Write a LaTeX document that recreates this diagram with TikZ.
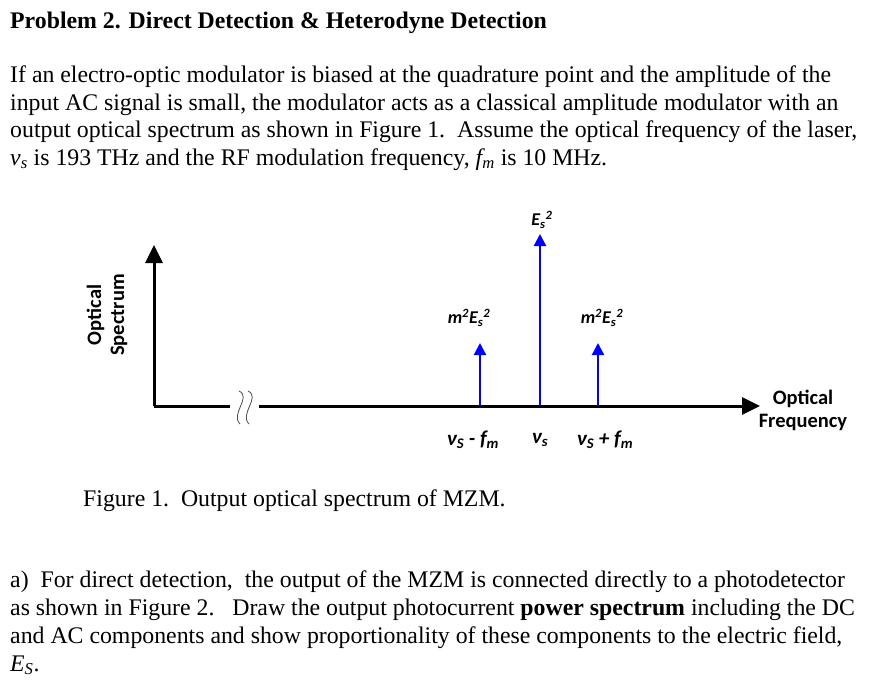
\documentclass[tikz,border=0pt]{standalone}
\usepackage{fontspec}
\setmainfont{Liberation Serif}
\newfontfamily\calfont{Carlito}
\usetikzlibrary{arrows.meta}
\begin{document}
\begin{tikzpicture}[x=1pt,y=-1pt,
  ln/.style={anchor=base west,inner sep=0,font=\fontsize{23.8}{26}\selectfont},
  lab/.style={inner sep=0,font=\calfont\bfseries\fontsize{20.5}{23}\selectfont,align=center},
  elab/.style={inner sep=0,font=\calfont\bfseries\itshape\fontsize{18}{20}\selectfont},
  flab/.style={inner sep=0,font=\calfont\bfseries\itshape\fontsize{21}{23}\selectfont},
  blue/.style={draw={rgb,255:red,0;green,0;blue,255},line width=2.2pt,-{Triangle[length=12pt,width=12pt]}},
  ax/.style={line width=3pt}]
\useasboundingbox (0,0) rectangle (881,691);
\node[ln] (t) at (10,28) {\textbf{Problem 2. Direct Detection \& Heterodyne Detection}};
\node[ln] (p1) at (10,82) {If an electro-optic modulator is biased at the quadrature point and the amplitude of the};
\node[ln] (p2) at (10,110) {input AC signal is small, the modulator acts as a classical amplitude modulator with an};
\node[ln] (p3) at (10,137) {output optical spectrum as shown in Figure 1.\ \ Assume the optical frequency of the laser,};
\node[ln] (p4) at (10,165) {\textit{ν\textsubscript{s}} is 193 THz and the RF modulation frequency,\ \textit{f\textsubscript{m}} is 10 MHz.};
\node[ln] (cap) at (83,506) {Figure 1.\ \ Output optical spectrum of MZM.};
\node[ln] (a1) at (10,587) {a)\ \ For direct detection,\ \ the output of the MZM is connected directly to a photodetector};
\node[ln] (a2) at (10,615) {as shown in Figure 2.\ \ \ Draw the output photocurrent \textbf{power spectrum} including the DC};
\node[ln] (a3) at (10,643) {and AC components and show proportionality of these components to the electric field,};
\node[ln] (a4) at (10,671) {\textit{E\textsubscript{S}}.};
% axes
\coordinate (o) at (154,406);
\coordinate (ytop) at (154,245);
\coordinate (b1) at (230,406);
\coordinate (b2) at (259,406);
\coordinate (xend) at (760,406);
\draw[ax,-{Triangle[length=18pt,width=17pt]}] (o) -- (ytop);
\draw[ax] (o) -- (b1);
\draw[ax,-{Triangle[length=18pt,width=17pt]}] (b2) -- (xend);
\draw[line width=0.8pt,gray!60!black] (239,391) .. controls (252,397) and (230,414) .. (240,424);
\draw[line width=0.8pt,gray!60!black] (248,391) .. controls (261,397) and (239,414) .. (249,424);
% spectral lines
\coordinate (l) at (480,406); \coordinate (lt) at (480,343);
\coordinate (c) at (540,406); \coordinate (ct) at (540,234);
\coordinate (r) at (598,406); \coordinate (rt) at (598,343);
\draw[blue] (l) -- (lt);
\draw[blue] (c) -- (ct);
\draw[blue] (r) -- (rt);
\node[elab] (le) at (469,318) {m\textsuperscript{2}E\textsubscript{s}\textsuperscript{2}};
\node[elab] (ce) at (542,220) {E\textsubscript{s}\textsuperscript{2}};
\node[elab] (re) at (602,318) {m\textsuperscript{2}E\textsubscript{s}\textsuperscript{2}};
\node[flab] (lf) at (473,440) {ν\textsubscript{S} - f\textsubscript{m}};
\node[flab] (cf) at (540,440) {ν\textsubscript{s}};
\node[flab] (rf) at (605,440) {ν\textsubscript{S} + f\textsubscript{m}};
\node[lab] (xl) at (803,410) {Optical\\Frequency};
\node[lab,rotate=90] (yl) at (107,315) {Optical\\Spectrum};
\end{tikzpicture}
\end{document}
